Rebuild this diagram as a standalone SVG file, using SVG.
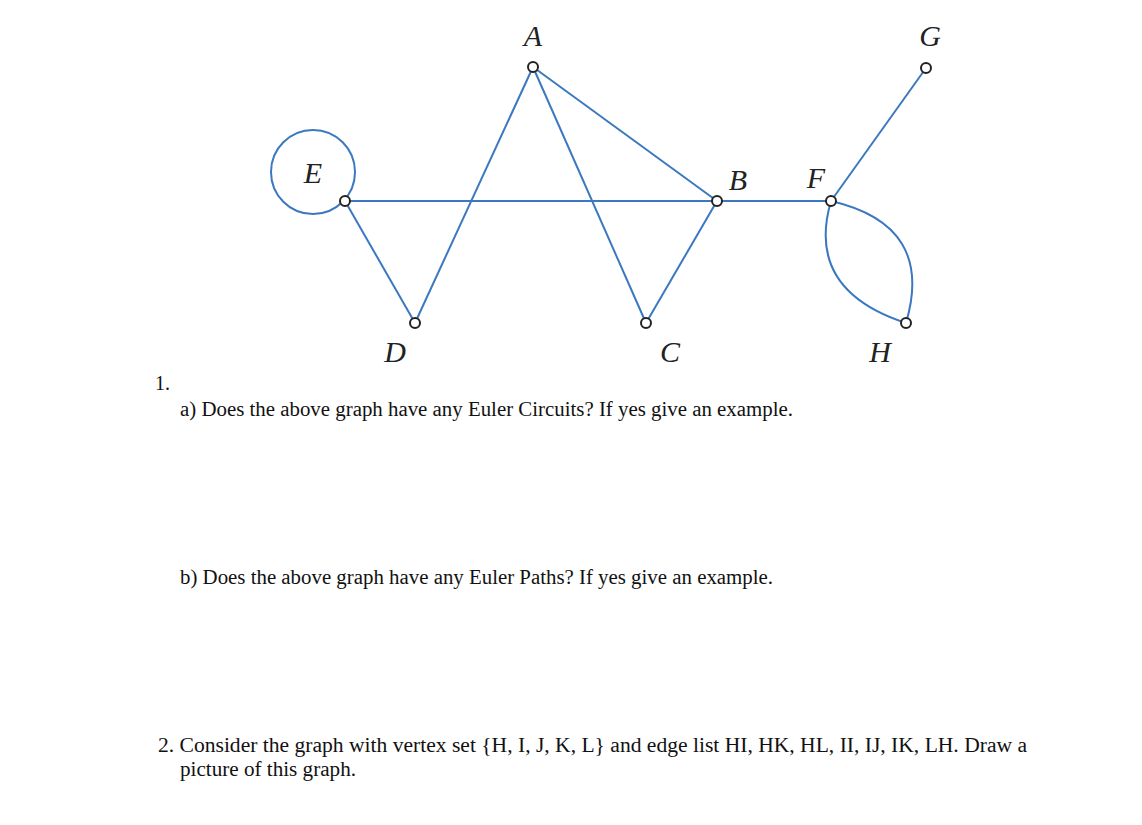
<svg xmlns="http://www.w3.org/2000/svg" width="1142" height="825" viewBox="0 0 1142 825">
<style>
.e{stroke:#3b78c0;stroke-width:2;fill:none}
.n{fill:#fff;stroke:#222;stroke-width:2}
.l{font-family:"Liberation Serif",serif;font-style:italic;font-size:30px;fill:#222;text-anchor:middle}
.t{font-family:"Liberation Serif",serif;font-size:20px;fill:#111}
</style>
<rect width="1142" height="825" fill="#fff"/>
<g id="connectors">
<circle class="e" cx="313" cy="172" r="42"/>
<line class="e" x1="345" y1="201" x2="831" y2="201"/>
<line class="e" x1="345" y1="201" x2="415" y2="323"/>
<line class="e" x1="415" y1="323" x2="533" y2="67"/>
<line class="e" x1="533" y1="67" x2="646" y2="323"/>
<line class="e" x1="533" y1="67" x2="717" y2="201"/>
<line class="e" x1="717" y1="201" x2="646" y2="323"/>
<line class="e" x1="831" y1="201" x2="926" y2="68"/>
<path class="e" d="M831 201 Q805 290 906 323"/>
<path class="e" d="M831 201 Q935 225 906 323"/>
</g>
<g id="A"><circle class="n" cx="533" cy="67" r="5"/><text class="l" x="533" y="46">A</text></g>
<g id="G"><circle class="n" cx="926" cy="68" r="5"/><text class="l" x="930" y="46">G</text></g>
<g id="E"><circle class="n" cx="345" cy="201" r="5"/><text class="l" x="313" y="183">E</text></g>
<g id="B"><circle class="n" cx="717" cy="201" r="5"/><text class="l" x="738" y="190">B</text></g>
<g id="F"><circle class="n" cx="831" cy="201" r="5"/><text class="l" x="816" y="188">F</text></g>
<g id="D"><circle class="n" cx="415" cy="323" r="5"/><text class="l" x="395" y="362">D</text></g>
<g id="C"><circle class="n" cx="646" cy="323" r="5"/><text class="l" x="670" y="362">C</text></g>
<g id="H"><circle class="n" cx="906" cy="323" r="5"/><text class="l" x="880" y="362">H</text></g>
<g id="text">
<text class="t" x="155" y="390">1.</text>
<text class="t" x="180" y="416" textLength="613" lengthAdjust="spacingAndGlyphs">a) Does the above graph have any Euler Circuits? If yes give an example.</text>
<text class="t" x="180" y="584" textLength="593" lengthAdjust="spacingAndGlyphs">b) Does the above graph have any Euler Paths? If yes give an example.</text>
<text class="t" x="158" y="752" textLength="869" lengthAdjust="spacingAndGlyphs">2. Consider the graph with vertex set {H, I, J, K, L} and edge list HI, HK, HL, II, IJ, IK, LH. Draw a</text>
<text class="t" x="180" y="776" textLength="176" lengthAdjust="spacingAndGlyphs">picture of this graph.</text>
</g>
</svg>
